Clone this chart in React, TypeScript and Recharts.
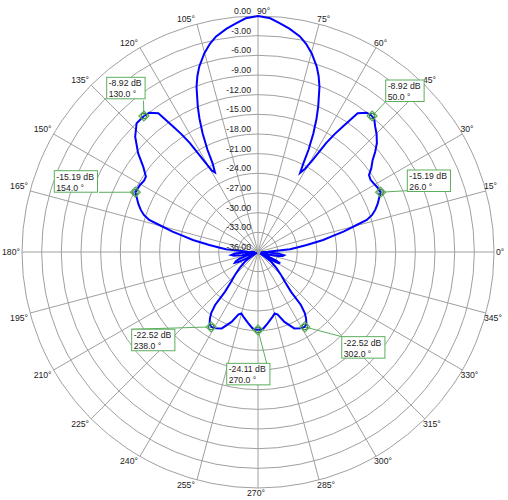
import { PolarAngleAxis, PolarGrid, PolarRadiusAxis, Radar, RadarChart } from 'recharts';

// antenna pattern (angle in degrees, gain in dB)
const patternAngles = [
  0, 2, 4, 5, 6.5, 8.2, 10.4, 12, 13.4, 15.3, 16.4, 18, 19.75, 22, 23.9, 26, 28.5, 30.8, 32.8, 34.7,
  36.5, 38.7, 40.5, 42.5, 44.8, 47, 48.5, 50, 52, 54.3, 55.9, 57, 58, 59.3, 60.5, 62, 62.9, 63.7, 65, 66.3,
  67.5, 69.6, 71, 72.4, 74.9, 77, 79, 82, 84.5, 87, 90, 93, 95.5, 98, 101, 103, 105.1, 107.6, 109, 110.4,
  112.5, 113.7, 115, 116.3, 117.1, 118.4, 119.6, 120.7, 122, 123, 124.1, 125.7, 128, 130, 133.3, 136.8, 140.5, 143.4, 146.1, 148,
  150.4, 154, 156.1, 158, 160.25, 162, 163.6, 164.7, 166.6, 168, 169.6, 171.8, 173.5, 175, 176, 178, 180, 182, 184, 186.5,
  189, 191, 193, 195, 197.5, 200, 203, 205, 207, 209, 211, 213, 214.5, 216.7, 221, 225, 228, 230.3, 231, 232.5,
  234.1, 236, 238, 241, 244.6, 249.3, 252.5, 254.8, 257.2, 262.3, 266, 270, 274, 277.7, 282.8, 285.2, 287.5, 290.7, 295.4, 299,
  302, 304, 305.9, 307.5, 309, 309.7, 312, 315, 319, 323.3, 325.5, 327, 329, 331, 333, 335, 337, 339, 343, 346,
  349, 351, 353, 355.5, 357.5,
];
const patternDb = [
  -35.5, -34.5, -32.8, -31.1, -30.0, -28.5, -25.9, -24.4, -22.6, -20.4, -18.7, -17.7, -17.0, -16.3, -15.8, -15.19, -15.3, -15.5, -15.6, -15.4,
  -14.5, -13.6, -12.5, -11.4, -10.5, -9.8, -9.2, -8.92, -9.05, -9.95, -12.9, -14.6, -16.4, -19.7, -21.4, -22.3, -20.8, -18.6, -16.0, -13.8,
  -12.0, -9.1, -7.6, -6.35, -4.6, -3.4, -2.5, -1.6, -0.95, -0.3, 0, -0.3, -0.95, -1.6, -2.5, -3.4, -4.6, -6.35, -7.6, -9.1,
  -12.0, -13.8, -16.0, -18.6, -20.8, -22.2, -21.7, -19.7, -16.4, -14.6, -12.9, -9.95, -9.05, -8.92, -9.0, -10.3, -12.3, -14.2, -15.4, -15.5,
  -15.3, -15.19, -15.8, -16.3, -17.0, -17.7, -18.7, -20.4, -22.6, -24.4, -25.9, -28.5, -30.0, -31.1, -32.8, -34.5, -35.5, -34.0, -32.5, -31.9,
  -32.3, -33.5, -35.0, -35.6, -34.2, -33.0, -32.3, -32.1, -32.6, -34.0, -35.5, -35.8, -34.8, -33.5, -32.3, -31.0, -29.8, -28.1, -25.6, -24.3,
  -23.5, -22.8, -22.52, -22.7, -23.1, -24.6, -26.0, -26.3, -25.9, -25.0, -24.3, -24.11, -24.3, -25.0, -25.9, -26.3, -26.0, -24.6, -23.1, -22.7,
  -22.52, -22.8, -23.5, -24.3, -25.6, -28.1, -29.8, -31.0, -32.3, -33.5, -34.8, -35.6, -33.8, -32.6, -32.2, -33.0, -34.5, -35.6, -35.5, -34.2,
  -32.8, -32.2, -32.0, -32.8, -34.3,
];
const angleTicks = [0, 15, 30, 45, 60, 75, 90, 105, 120, 135, 150, 165, 180, 195, 210, 225, 240, 255, 270, 285, 300, 315, 330, 345];
const dbTicks = [-36, -33, -30, -27, -24, -21, -18, -15, -12, -9, -6, -3, 0];
const markerAngles = [26, 50, 130, 154, 238, 270, 302];

// where each callout box sits relative to its marker
const callouts: Record<number, { bx: number; by: number; lx: number; ly: number }> = {
  26: { bx: 26.7, by: -22.2, lx: 26.7, ly: -1.5 },
  50: { bx: 13.6, by: -36, lx: 13.6, ly: -14.3 },
  130: { bx: -37.2, by: -38.7, lx: -0.4, ly: -15.3 },
  154: { bx: -81.1, by: -21.5, lx: -36.4, ly: 0.1 },
  238: { bx: -79.5, by: 2.3, lx: -79.5, ly: 2.3 },
  270: { bx: -31.3, by: 33.4, lx: 8.7, ly: 33.4 },
  302: { bx: 36.9, by: 9.7, lx: 36.9, ly: 9.7 },
};

const data = patternAngles.map((angle, i) => ({ angle, db: patternDb[i] }));

const FONT = '"Liberation Sans", Arial, sans-serif';
const GREEN = '#5cae5c';

function AngleTick(props: any) {
  const { x, y, payload } = props;
  const a = payload.value;
  const rad = (a * Math.PI) / 180;
  const ox = x - Math.cos(rad);
  const oy = y + Math.sin(rad);
  let anchor = 'start';
  let tx = ox - 2;
  if (a === 90) tx = ox - 1;
  else if (a === 270) anchor = 'middle';
  else if (a === 0) tx = ox + 2;
  else if (Math.cos(rad) < 0) anchor = 'end';
  let ty = oy + 3;
  if (a > 0 && a < 180) ty = oy - 2;
  else if (a > 180) ty = oy + 8;
  return (
    <text x={tx} y={ty} textAnchor={anchor} fontSize={8.7} fontFamily={FONT} fill="#222">
      {`${a}°`}
    </text>
  );
}

function RadiusTick(props: any) {
  const { x, y, payload } = props;
  return (
    <text x={x - 7} y={y - 2} textAnchor="end" fontSize={8.7} fontFamily={FONT} fill="#222">
      {Number(payload.value).toFixed(2)}
    </text>
  );
}

function MarkerDot(props: any) {
  const { cx, cy, index } = props;
  const row = data[index];
  if (!row || !markerAngles.includes(row.angle)) return <g key={`dot-${index}`} />;
  const c = callouts[row.angle];
  const line1 = `${row.db.toFixed(2)} dB`;
  const line2 = `${row.angle.toFixed(1)} °`;
  const w = line1.length * 4.8;
  const h = 21.5;
  const bx = cx + c.bx;
  const by = cy + c.by;
  return (
    <g key={`dot-${index}`}>
      <line x1={cx} y1={cy} x2={cx + c.lx} y2={cy + c.ly} stroke={GREEN} strokeWidth={1} />
      <path
        d={`M${cx},${cy - 5} L${cx + 5},${cy} L${cx},${cy + 5} L${cx - 5},${cy} Z`}
        fill="none"
        stroke={GREEN}
        strokeWidth={1.2}
      />
      <circle cx={cx} cy={cy} r={2.8} fill="none" stroke="#2e7d32" strokeWidth={1} />
      <rect x={bx} y={by} width={w} height={h} fill="#fff" stroke={GREEN} strokeWidth={1} />
      <text x={bx + 2} y={by + 9} fontSize={8.7} fontFamily={FONT} fill="#222">
        {line1}
      </text>
      <text x={bx + 2} y={by + 20} fontSize={8.7} fontFamily={FONT} fill="#222">
        {line2}
      </text>
    </g>
  );
}

export default function App() {
  // pin the chart to the window's top-left corner, past the body margin
  return (
    <div style={{ position: 'absolute', left: 0, top: 0, width: 508, height: 500 }}>
      <RadarChart
        width={508}
        height={500}
        data={data}
        cx={258}
        cy={252}
        innerRadius={0}
        outerRadius={236}
        startAngle={0}
        endAngle={360}
        margin={{ top: 0, right: 0, bottom: 0, left: 0 }}
      >
        <PolarGrid gridType="circle" stroke="#a0a0a0" strokeWidth={1} />
        <PolarAngleAxis
          dataKey="angle"
          type="number"
          domain={[0, 360]}
          ticks={angleTicks}
          tick={AngleTick}
          tickSize={1}
          tickLine={false}
          axisLine={false}
        />
        <PolarRadiusAxis
          type="number"
          angle={90}
          domain={[-36, 0]}
          ticks={dbTicks}
          tick={RadiusTick}
          tickLine={false}
          axisLine={false}
        />
        <Radar
          dataKey="db"
          stroke="#0000ff"
          strokeWidth={2}
          fill="none"
          fillOpacity={0}
          dot={MarkerDot}
          isAnimationActive={false}
        />
      </RadarChart>
    </div>
  );
}
